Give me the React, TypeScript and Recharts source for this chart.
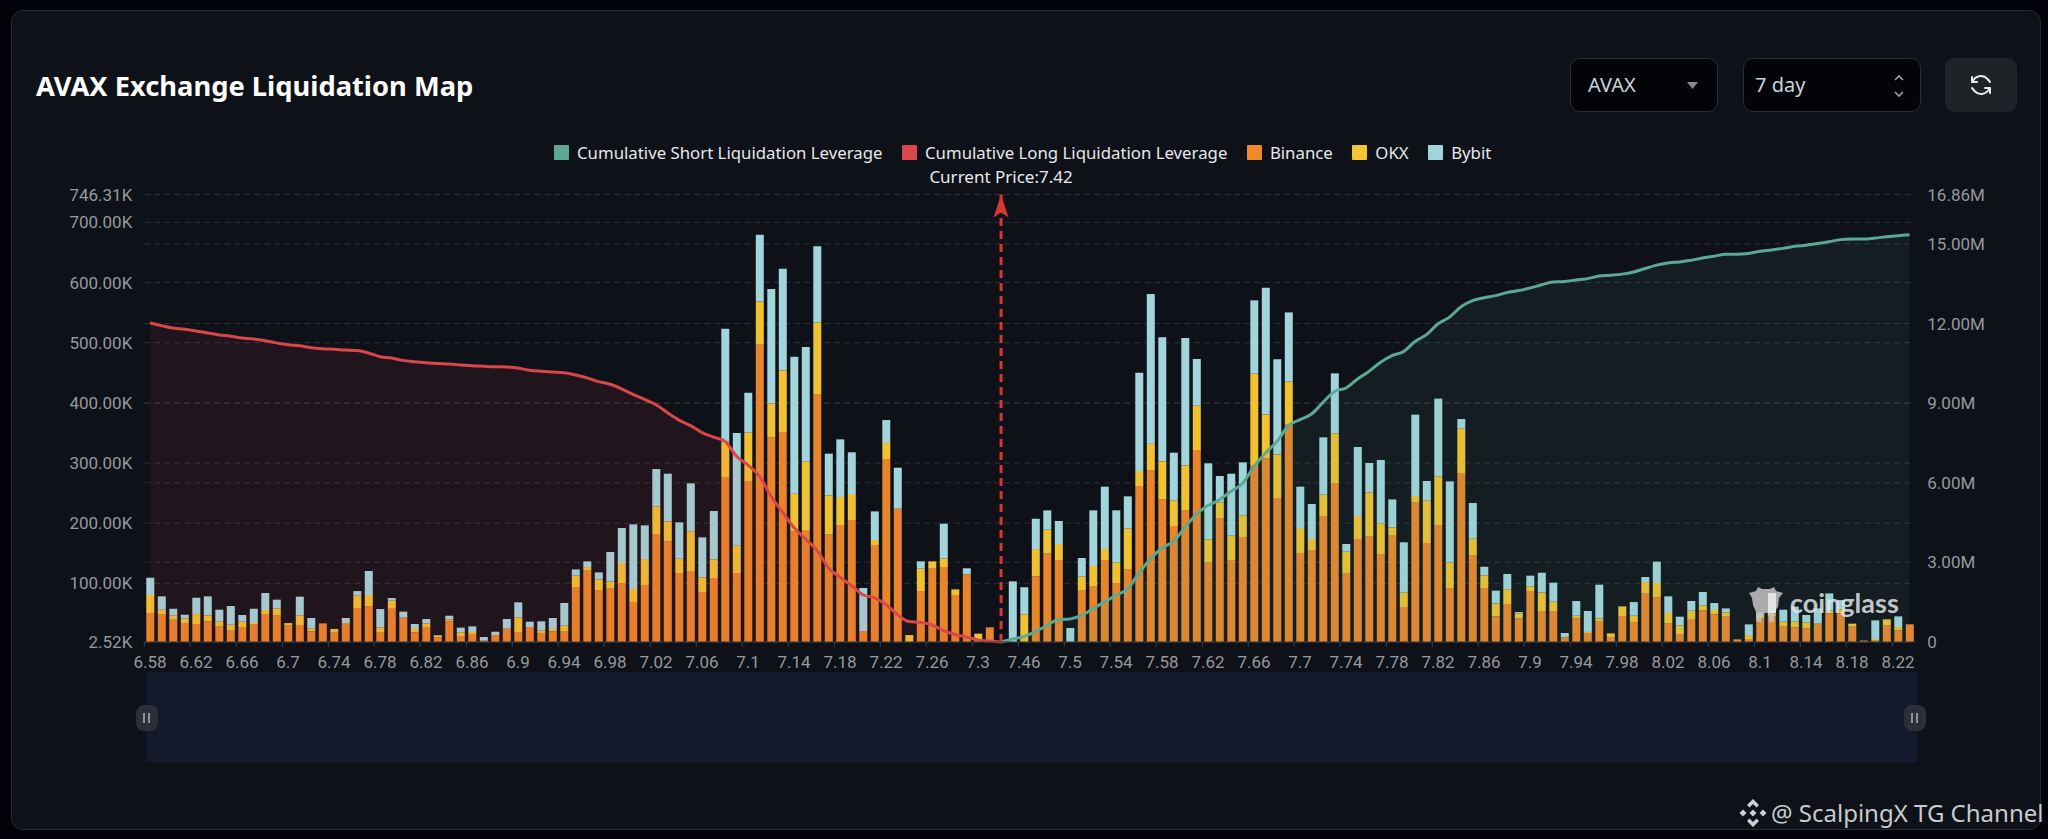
import {
  Area,
  Bar,
  CartesianGrid,
  ComposedChart,
  ReferenceDot,
  ReferenceLine,
  XAxis,
  YAxis,
} from "recharts";

const PRICES = [
  "6.58","6.59","6.6","6.61","6.62","6.63","6.64","6.65","6.66","6.67",
  "6.68","6.69","6.7","6.71","6.72","6.73","6.74","6.75","6.76","6.77",
  "6.78","6.79","6.8","6.81","6.82","6.83","6.84","6.85","6.86","6.87",
  "6.88","6.89","6.9","6.91","6.92","6.93","6.94","6.95","6.96","6.97",
  "6.98","6.99","7","7.01","7.02","7.03","7.04","7.05","7.06","7.07",
  "7.08","7.09","7.1","7.11","7.12","7.13","7.14","7.15","7.16","7.17",
  "7.18","7.19","7.2","7.21","7.22","7.23","7.24","7.25","7.26","7.27",
  "7.28","7.29","7.3","7.31","7.42","7.45","7.46","7.47","7.48","7.49",
  "7.5","7.51","7.52","7.53","7.54","7.55","7.56","7.57","7.58","7.59",
  "7.6","7.61","7.62","7.63","7.64","7.65","7.66","7.67","7.68","7.69",
  "7.7","7.71","7.72","7.73","7.74","7.75","7.76","7.77","7.78","7.79",
  "7.8","7.81","7.82","7.83","7.84","7.85","7.86","7.87","7.88","7.89",
  "7.9","7.91","7.92","7.93","7.94","7.95","7.96","7.97","7.98","7.99",
  "8","8.01","8.02","8.03","8.04","8.05","8.06","8.07","8.08","8.09",
  "8.1","8.11","8.12","8.13","8.14","8.15","8.16","8.17","8.18","8.19",
  "8.2","8.21","8.22","8.23",
];

// thousands
const BINANCE = [
  50.7,47.9,39.6,34.1,32.4,36.8,28,21.3,26.3,31.3,
  47.9,46.3,29.6,30.8,20.2,33.5,18,34.1,59,61.8,
  18,59,43,18.6,26.3,10.3,36.8,11.4,15.8,4.7,
  14.1,24.1,18,27.4,16.4,20.2,19.7,93.9,121,88.9,
  91.1,100.6,69,96.1,182,169.3,117.2,120.5,85.6,108.9,
  276.7,117.2,270,496.7,342.7,351.5,186.4,188.6,414.7,180.9,
  197,205.3,20.8,163.7,306.6,224.1,0,87.3,124.4,127.2,
  80.6,115,7.5,26.9,0,0,0,111.6,149.3,138.8,
  0,87.8,94.5,138.8,100.6,122.7,261.8,287.3,239.6,195.3,
  220.8,321.6,134.4,208.6,138.8,177,295.6,307.8,241.8,363.7,
  150.4,155.4,211.9,266.8,116.1,173.7,178.1,148.8,180.3,60.7,
  234.1,167,197,92.2,283.4,147.1,92.2,45.2,65.7,41.8,
  87.3,54,54,10.3,41.8,17.5,36.3,10.8,45.7,35.7,
  82.8,76.2,33,15.8,39.6,55.1,48.5,44.6,6.9,7.5,
  41.8,45.7,28,26.9,25.2,31.3,50.1,50.1,28,4.2,
  4.7,30.8,21.9,31.9,
];

const OKX = [
  29.9,8.3,6.6,7.2,16.6,10,8.9,10,10,2.8,
  7.8,12.2,4.4,16.1,5,0,6.1,0,21,18.8,
  8.9,12.2,0,5.5,7.2,2.8,3.3,7.2,3.3,0,
  0,1.1,25.5,0,5.5,3.9,10,18.8,6.1,17.7,
  12.2,33.2,21.6,44.3,46,33.8,23.8,65.9,24.4,31,
  59.3,45.4,80.9,72,56.5,102.5,62.6,114.1,119.1,65.4,
  46.5,43.2,0,8.3,26.6,0,14.1,37.1,12.2,14.4,
  9.4,0,8.9,0,0,0,48.5,45.4,39.9,26.6,
  0,23.3,34.3,18.3,33.8,68.7,24.9,44.9,63.2,42.7,
  75.3,73.7,38.8,26,40.4,36,152.9,73.1,72.6,72,
  41.6,18.3,35.5,82.5,36.6,38.2,73.1,51,12.7,24.4,
  11.1,70.4,80.9,42.7,74.2,27.1,21,21.6,24.4,8.3,
  7.8,31,15.5,0.6,4.4,1.7,5.5,6.1,16.1,10.5,
  19.4,24.4,17.7,14.4,15,8.3,7.2,7.2,0,6.6,
  5.5,4.4,8.3,10,10,2.2,4.4,6.6,5,0.6,
  2.8,9.4,5.5,0,
];

const BYBIT = [
  28.8,22.2,11.6,6.6,27.1,31.6,19.4,31,11.1,23.8,
  28.3,14.4,0,31,17.2,0,0,8.3,7.2,39.9,
  30.5,4.4,10,8.3,7.2,1.1,6.1,7.8,9.4,6.1,
  5.5,15.5,24.9,8.9,15,18.3,37.7,10.5,9.4,11.6,
  48.8,58.2,107.5,56,62,79.2,60.4,79.8,66.5,80.3,
  187.3,187.3,65.9,110.8,190,169,227.7,190,126.3,69.3,
  95.8,69.3,71.5,47.6,38.2,68.1,0,12.2,0,57.6,
  0,10,0,0,0,103.3,44.9,50.4,32.1,38.2,
  25.8,31,92.5,103.6,87,53.2,163.4,248.7,206.1,79.2,
  211.6,77.6,126.3,43.8,103,88.1,121.9,210.5,157.9,114.7,
  68.7,58.2,95.3,99.7,12.7,114.7,48.8,105.3,46.5,83.1,
  135.2,32.7,129.1,134.6,15.5,59.3,14.4,21.1,25.5,2.2,
  17.7,32.7,31.6,6.6,24.4,34.9,56,0,0,22.7,
  8.3,35.5,27.7,14.4,16.1,22.2,11.6,6.6,0,17.7,
  3.9,5.5,19.9,24.4,12.2,24.9,28.8,15.5,0,0,
  31,0,17.7,0,
];

// millions, 6.58 down to the current price
const CUM_LONG = [
  12.02,11.92,11.83,11.78,11.72,11.64,11.57,11.52,11.45,11.42,
  11.35,11.27,11.2,11.16,11.09,11.05,11.03,11,10.98,10.89,
  10.75,10.7,10.61,10.56,10.52,10.49,10.47,10.44,10.41,10.39,
  10.37,10.36,10.32,10.24,10.2,10.17,10.14,10.06,9.95,9.81,
  9.71,9.54,9.33,9.14,8.94,8.64,8.36,8.15,7.89,7.72,
  7.56,7,6.66,6.24,5.49,4.89,4.31,3.88,3.45,2.79,
  2.44,2.12,1.78,1.66,1.41,1.03,0.77,0.74,0.64,0.43,
  0.28,0.19,0.08,0.04,0,
];

// millions, current price up to 8.23
const CUM_SHORT = [
  0,0.11,0.21,0.4,0.62,0.85,0.87,1,1.26,1.51,
  1.76,2,2.6,3.14,3.54,3.79,4.33,4.82,5.14,5.36,
  5.68,5.97,6.62,7.12,7.56,8.15,8.38,8.59,9.03,9.44,
  9.57,9.91,10.2,10.54,10.79,10.94,11.32,11.58,11.99,12.24,
  12.63,12.86,12.97,13.05,13.17,13.24,13.34,13.46,13.56,13.58,
  13.64,13.69,13.79,13.82,13.86,13.94,14.07,14.2,14.28,14.32,
  14.38,14.47,14.53,14.61,14.61,14.64,14.72,14.77,14.83,14.91,
  14.95,15.01,15.08,15.16,15.18,15.18,15.22,15.27,15.31,15.34,
];

const LEFT_TICKS = [2.52, 100, 200, 300, 400, 500, 600, 700, 746.31];
const RIGHT_TICKS = [0, 3, 6, 9, 12, 15, 16.86];
const CURRENT_PRICE = "7.42";

const LEGEND = [
  { name: "Cumulative Short Liquidation Leverage", color: "#5ba893" },
  { name: "Cumulative Long Liquidation Leverage", color: "#d9474b" },
  { name: "Binance", color: "#ee8a2a" },
  { name: "OKX", color: "#f2c531" },
  { name: "Bybit", color: "#a0d4da" },
];

const shortStart = PRICES.indexOf(CURRENT_PRICE);
const rows = PRICES.map((price, i) => ({
  price,
  binance: BINANCE[i],
  okx: OKX[i],
  bybit: BYBIT[i],
  long: i < CUM_LONG.length ? CUM_LONG[i] : null,
  short: i >= shortStart ? CUM_SHORT[i - shortStart] : null,
}));

const UI_FONT = "'Noto Sans', sans-serif";
const AXIS_FONT = "Roboto, sans-serif";
const axisTick = { fill: "#96999d", fontSize: 17, fontFamily: AXIS_FONT };
const BAND = 1771 / PRICES.length;

function PriceTick({ x, y, payload }: any) {
  return (
    <g>
      <line x1={x - BAND / 2} x2={x - BAND / 2} y1={y} y2={y + 5} stroke="#3a3d42" />
      <text x={x} y={y + 26} textAnchor="middle" {...axisTick}>
        {payload.value}
      </text>
    </g>
  );
}

function PriceArrow({ cx, cy }: any) {
  return (
    <path
      d={`M${cx} ${cy} L${cx + 7.5} ${cy + 23} L${cx} ${cy + 18} L${cx - 7.5} ${cy + 23} Z`}
      fill="#d9362f"
    />
  );
}

function Box({ left, top, width, height, style, children }: any) {
  return (
    <div style={{ position: "absolute", left, top, width, height, boxSizing: "border-box", ...style }}>
      {children}
    </div>
  );
}

function SliderHandle({ left }: any) {
  return (
    <Box
      left={left}
      top={705}
      width={22}
      height={26}
      style={{ background: "#2a2f38", borderRadius: 8 }}
    >
      <div style={{ position: "absolute", left: 7, top: 8, width: 2, height: 10, background: "#8b939c" }} />
      <div style={{ position: "absolute", left: 12, top: 8, width: 2, height: 10, background: "#8b939c" }} />
    </Box>
  );
}

const selectStyle = {
  background: "#030407",
  border: "1px solid #2a2d33",
  borderRadius: 10,
  color: "#c8d3de",
  fontFamily: UI_FONT,
  fontSize: 20,
  lineHeight: "52px",
};

export default function App() {
  return (
    <div style={{ position: "absolute", left: 0, top: 0, width: 2048, height: 839, background: "#02030a", overflow: "hidden" }}>
      <Box
        left={11}
        top={10}
        width={2030}
        height={820}
        style={{ background: "#0e1118", border: "1px solid #26292e", borderRadius: 12 }}
      />

      <Box left={36} top={66} width={600} height={40} style={{ color: "#fff", fontFamily: UI_FONT, fontWeight: 700, fontSize: 27.3, lineHeight: "40px", whiteSpace: "nowrap" }}>
        AVAX Exchange Liquidation Map
      </Box>

      <Box left={1570} top={58} width={148} height={54} style={selectStyle}>
        <span style={{ position: "absolute", left: 17 }}>AVAX</span>
        <svg style={{ position: "absolute", left: 116, top: 23 }} width="12" height="8">
          <path d="M0 0 H11 L5.5 7 Z" fill="#8a8a8a" />
        </svg>
      </Box>
      <Box left={1743} top={58} width={178} height={54} style={selectStyle}>
        <span style={{ position: "absolute", left: 11 }}>7 day</span>
        <svg style={{ position: "absolute", left: 148, top: 14 }} width="14" height="26" fill="none" stroke="#9aa0a6" strokeWidth="1.6">
          <path d="M3 7 L7 3 L11 7" />
          <path d="M3 19 L7 23 L11 19" />
        </svg>
      </Box>
      <Box left={1945} top={58} width={72} height={54} style={{ background: "#1f2226", borderRadius: 9 }}>
        <svg style={{ position: "absolute", left: 24, top: 15 }} width="24" height="24" viewBox="0 0 24 24" fill="none" stroke="#e6e8ea" strokeWidth="2" strokeLinecap="round" strokeLinejoin="round">
          <path d="M3 4v5h5" />
          <path d="M21 20v-5h-5" />
          <path d="M3.5 9a9 9 0 0 1 15-3l2.5 3" />
          <path d="M20.5 15a9 9 0 0 1-15 3l-2.5-3" />
        </svg>
      </Box>

      <Box left={146} top={672} width={1771} height={90} style={{ background: "#121a2b" }} />
      <SliderHandle left={136} />
      <SliderHandle left={1904} />

      <div style={{ position: "absolute", left: 0, top: 0 }}>
        <ComposedChart
          width={2048}
          height={839}
          data={rows}
          margin={{ top: 194.5, right: 72.7, bottom: 167, left: 84.3 }}
        >
          <CartesianGrid yAxisId="left" vertical={false} stroke="#2c3035" strokeDasharray="6 4" />
          <CartesianGrid yAxisId="right" vertical={false} stroke="#2c3035" strokeDasharray="6 4" />
          <XAxis
            dataKey="price"
            interval={3}
            height={30}
            tickSize={0}
            tickMargin={0}
            axisLine={{ stroke: "#33363b" }}
            tickLine={false}
            tick={<PriceTick />}
          />
          <YAxis
            yAxisId="left"
            domain={[2.52, 746.31]}
            ticks={LEFT_TICKS}
            interval={0}
            allowDataOverflow
            width={60}
            tickSize={0}
            tickMargin={12}
            axisLine={false}
            tickLine={false}
            tick={axisTick}
            tickFormatter={(v: number) => `${v.toFixed(2)}K`}
          />
          <YAxis
            yAxisId="right"
            orientation="right"
            domain={[0, 16.86]}
            ticks={RIGHT_TICKS}
            interval={0}
            width={60}
            tickSize={0}
            tickMargin={12}
            axisLine={false}
            tickLine={false}
            tick={axisTick}
            tickFormatter={(v: number) => (v === 0 ? "0" : `${v.toFixed(2)}M`)}
          />
          <Bar yAxisId="left" dataKey="binance" stackId="ex" barSize={8} fill="#e8842a" isAnimationActive={false} />
          <Bar yAxisId="left" dataKey="okx" stackId="ex" barSize={8} fill="#f0c232" isAnimationActive={false} />
          <Bar yAxisId="left" dataKey="bybit" stackId="ex" barSize={8} fill="#a2d5db" isAnimationActive={false} />
          <Area
            yAxisId="right"
            type="monotone"
            dataKey="long"
            stroke="#d9474b"
            strokeWidth={3}
            fill="#d9474b"
            fillOpacity={0.09}
            dot={false}
            activeDot={false}
            isAnimationActive={false}
            zIndex={350}
          />
          <Area
            yAxisId="right"
            type="monotone"
            dataKey="short"
            stroke="#5ba893"
            strokeWidth={3}
            fill="#5ba893"
            fillOpacity={0.09}
            dot={false}
            activeDot={false}
            isAnimationActive={false}
            zIndex={350}
          />
          <ReferenceLine
            yAxisId="left"
            x={CURRENT_PRICE}
            stroke="#d9362f"
            strokeWidth={3}
            strokeDasharray="8 5"
            label={{
              value: `Current Price:${CURRENT_PRICE}`,
              position: "top",
              offset: 12,
              fill: "#e8eaec",
              fontSize: 17,
              fontFamily: UI_FONT,
            }}
          />
          <ReferenceDot
            yAxisId="left"
            x={CURRENT_PRICE}
            y={746.31}
            ifOverflow="visible"
            shape={<PriceArrow />}
          />
        </ComposedChart>
      </div>

      <Box left={554} top={141} width={1000} height={22} style={{ display: "flex", alignItems: "center", fontFamily: UI_FONT, fontSize: 16.8, color: "#e6e8ea" }}>
        {LEGEND.map((item) => (
          <span key={item.name} style={{ display: "flex", alignItems: "center", marginRight: 19.5, whiteSpace: "nowrap" }}>
            <span style={{ width: 15, height: 15, background: item.color, borderRadius: 1, marginRight: 8 }} />
            {item.name}
          </span>
        ))}
      </Box>

      <Box left={1748} top={585} width={36} height={40}>
        <svg width="36" height="40" viewBox="0 0 36 40">
          <path d="M1 8 L8 6 L10 2 L14 4 L22 4 L26 2 L28 6 L35 8 L31 13 L30 22 L26 27 L26 36 L22 38 L20 28 L14 28 L13 38 L8 36 L8 27 L5 20 L4 13 Z" fill="#c4c4c4" opacity="0.85" />
          <rect x="20" y="8" width="8" height="20" fill="#e4e4e4" />
        </svg>
      </Box>
      <Box left={1790} top={585} width={120} height={38} style={{ color: "rgba(225,228,230,0.85)", fontFamily: "Lato, sans-serif", fontWeight: 700, fontSize: 27, lineHeight: "36px" }}>
        coinglass
      </Box>

      <Box left={1739} top={799} width={28} height={28}>
        <svg width="28" height="28" viewBox="0 0 28 28" fill="#cfd0d2">
          <path d="M14 0 L20 6 L17.5 8.5 L14 5 L10.5 8.5 L8 6 Z" />
          <path d="M14 28 L20 22 L17.5 19.5 L14 23 L10.5 19.5 L8 22 Z" />
          <path d="M14 10.5 L17.5 14 L14 17.5 L10.5 14 Z" />
          <path d="M4 10.5 L7.5 14 L4 17.5 L0.5 14 Z" />
          <path d="M24 10.5 L27.5 14 L24 17.5 L20.5 14 Z" />
        </svg>
      </Box>
      <Box left={1771} top={795} width={275} height={36} style={{ color: "#c9cacc", fontFamily: UI_FONT, fontSize: 24, lineHeight: "36px", whiteSpace: "nowrap" }}>
        @ ScalpingX TG Channel
      </Box>
    </div>
  );
}
